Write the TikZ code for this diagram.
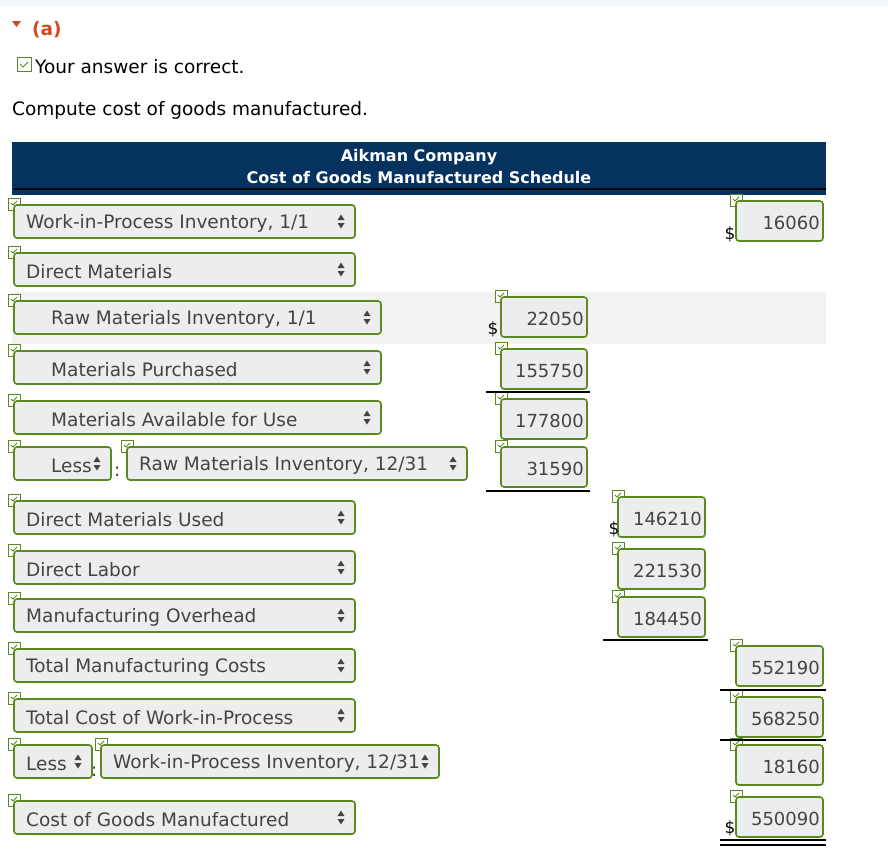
\documentclass[tikz,border=0pt]{standalone}
\usepackage{fontspec}
\setmainfont{DejaVu Sans}
\definecolor{gr}{HTML}{5A8A1E}
\definecolor{fillg}{HTML}{ECEDEF}
\definecolor{navy}{HTML}{05325F}
\definecolor{orng}{HTML}{D2491B}
\definecolor{txt}{HTML}{444444}
\definecolor{topbg}{HTML}{F4F7FA}
\tikzset{
 chk/.style={draw=gr,fill=white,line width=0.8pt},
 boxs/.style={draw=gr,fill=fillg,line width=1.6pt,rounded corners=3pt},
 lbl/.style={anchor=west,inner sep=0pt,font=\fontsize{18.5}{20}\selectfont,text=txt},
 num/.style={anchor=east,inner sep=0pt,font=\fontsize{18}{20}\selectfont,text=txt},
 rule/.style={line width=1.8pt,black}
}
\newcommand{\ck}[2]{\draw[chk] (#1-6,#2-7) rectangle (#1+6,#2+5);
 \draw[gr,line width=0.8pt] (#1-3,#2-2)--(#1-1,#2)--(#1+3,#2-4);}
\newcommand{\arr}[2]{\fill[txt] ({#1-3.5},{#2-1.5})--({#1+3.5},{#2-1.5})--({#1},{#2-7})--cycle;
 \fill[txt] ({#1-3.5},{#2+1.5})--({#1+3.5},{#2+1.5})--({#1},{#2+7})--cycle;}
\newcommand{\dd}[7]{\ck{#2}{#3}\draw[boxs] (#2,#3) rectangle (#4,#5);
 \node[lbl] (#1) at (#7,{(#3+#5)/2+2}) {#6};\arr{#4-14}{(#3+#5)/2}}
\newcommand{\nb}[6]{\ck{#2}{#3}\draw[boxs] (#2,#3) rectangle (#4,#5);
 \node[num] (#1) at (#4-3,{(#3+#5)/2+2}) {#6};}
\begin{document}
\begin{tikzpicture}[x=1pt,y=-1pt]
\useasboundingbox (0,0) rectangle (888,860);
\fill[white] (0,0) rectangle (888,860);
\fill[topbg] (0,0) rectangle (888,6);
\fill[orng] (12,21)--(21,21)--(16.5,27)--cycle;
\node[anchor=west,inner sep=0pt,text=orng,font=\bfseries\fontsize{18.5}{20}\selectfont] (pa) at (32,30) {(a)};
\draw[gr,fill=white,line width=0.9pt] (17,57) rectangle (31,71);
\draw[gr,line width=0.9pt] (20,64)--(23,67)--(28,62);
\node[anchor=west,inner sep=0pt,font=\fontsize{18.5}{20}\selectfont] (ok) at (35,67) {Your answer is correct.};
\node[anchor=west,inner sep=0pt,font=\fontsize{18.5}{20}\selectfont] (q) at (12,110) {Compute cost of goods manufactured.};
\fill[navy] (12,142) rectangle (826,195);
\draw[line width=1.5pt,black] (14,189)--(826,189);
\node[text=white,font=\bfseries\fontsize{16}{18}\selectfont,inner sep=0pt] (h1) at (419,157) {Aikman Company};
\node[text=white,font=\bfseries\fontsize{16}{18}\selectfont,inner sep=0pt] (h2) at (419,178) {Cost of Goods Manufactured Schedule};
\fill[black!5] (12,292) rectangle (826,344);
\dd{d1}{14}{205}{355}{238}{Work-in-Process Inventory, 1/1}{26}
\dd{d2}{14}{253}{355}{286}{Direct Materials}{26}
\dd{d3}{14}{301}{381}{334}{Raw Materials Inventory, 1/1}{51}
\dd{d4}{14}{351}{381}{384}{Materials Purchased}{51}
\dd{d5}{14}{401}{381}{434}{Materials Available for Use}{51}
\dd{d6}{14}{447}{111}{480}{Less}{51}
\node[lbl] (c6) at (114,472) {:};
\dd{d6b}{127}{447}{467}{480}{Raw Materials Inventory, 12/31}{139}
\dd{d7}{14}{501}{355}{534}{Direct Materials Used}{26}
\dd{d8}{14}{551}{355}{584}{Direct Labor}{26}
\dd{d9}{14}{599}{355}{632}{Manufacturing Overhead}{26}
\dd{d10}{14}{649}{355}{682}{Total Manufacturing Costs}{26}
\dd{d11}{14}{699}{355}{732}{Total Cost of Work-in-Process}{26}
\dd{d12}{14}{745}{92}{778}{Less}{26}
\node[lbl] (c12) at (91,772) {:};
\dd{d12b}{101}{745}{439}{778}{Work-in-Process Inventory, 12/31}{113}
\dd{d13}{14}{801}{355}{834}{Cost of Goods Manufactured}{26}
\nb{n1}{501}{297}{587}{337}{22050}
\nb{n2}{501}{349}{587}{389}{155750}
\nb{n3}{501}{399}{587}{439}{177800}
\nb{n4}{501}{447}{587}{487}{31590}
\draw[rule] (486,392)--(590,392);
\draw[rule] (486,491)--(590,491);
\nb{m1}{618}{497}{705}{537}{146210}
\nb{m2}{618}{549}{705}{589}{221530}
\nb{m3}{618}{597}{705}{637}{184450}
\draw[rule] (603,640)--(708,640);
\nb{k1}{736}{201}{823}{241}{16060}
\nb{k2}{736}{646}{823}{686}{552190}
\nb{k3}{736}{697}{823}{737}{568250}
\nb{k4}{736}{745}{823}{785}{18160}
\nb{k5}{736}{797}{823}{837}{550090}
\draw[rule] (720,690)--(826,690);
\draw[rule] (720,740)--(826,740);
\draw[rule] (720,840)--(826,840);
\draw[rule] (720,845)--(826,845);
\tikzset{dol/.style={inner sep=0pt,font=\fontsize{17}{19}\selectfont}}
\node[dol] (s1) at (730,234) {\$};
\node[dol] (s2) at (493,329) {\$};
\node[dol] (s3) at (614,529) {\$};
\node[dol] (s4) at (730,828) {\$};
\end{tikzpicture}
\end{document}
